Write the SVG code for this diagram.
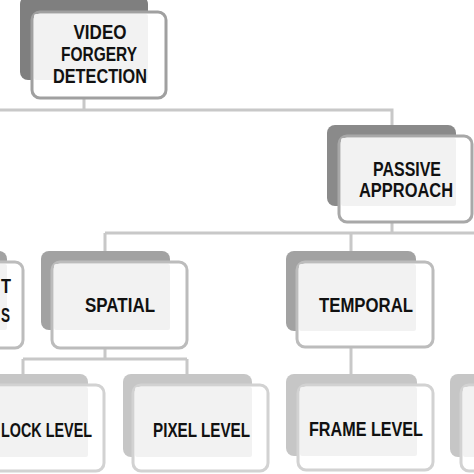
<svg xmlns="http://www.w3.org/2000/svg" width="474" height="474" viewBox="0 0 474 474">
<style>
.bg{fill:#ffffff}
.front{fill:#ffffff;stroke-width:3}
.inner{fill:#f2f2f2}
.l0 .sh{fill:#7f7f7f}.l0 .front{stroke:#a0a0a0}
.l1 .sh{fill:#8a8a8a}.l1 .front{stroke:#a8a8a8}
.l2 .sh{fill:#a2a2a2}.l2 .front{stroke:#bcbcbc}
.l3 .sh{fill:#c6c6c6}.l3 .front{stroke:#d2d2d2}
text{font-family:"Liberation Sans",Arial,sans-serif;font-weight:bold;font-size:19.5px;fill:#111111;text-anchor:middle}
.conn{fill:none;stroke:#c8c8c8;stroke-width:3}
</style>
<rect class="bg" x="0" y="0" width="474" height="474"/>
<g id="connectors" class="conn">
<path d="M84 98V110M-5 110H392V125"/>
<path d="M392 222V233M105 233H480M105 233V251M351 233V251"/>
<path d="M105 348V359M23 359H187M23 359V374M187 359V374"/>
<path d="M351 347V374"/>
</g>
<g id="node-video-forgery-detection" class="l0">
<rect class="sh" x="20" y="-4" width="128" height="84" rx="8"/>
<rect class="front" x="32" y="12" width="134" height="86" rx="8"/>
<rect class="inner" x="34" y="14" width="114" height="66" rx="2"/>
<text x="100" y="38.5" textLength="53" lengthAdjust="spacingAndGlyphs">VIDEO</text>
<text x="99" y="60.5" textLength="76" lengthAdjust="spacingAndGlyphs">FORGERY</text>
<text x="100" y="82.5" textLength="94" lengthAdjust="spacingAndGlyphs">DETECTION</text>
</g>
<g id="node-passive-approach" class="l1">
<rect class="sh" x="327" y="125" width="129" height="81" rx="8"/>
<rect class="front" x="339" y="136" width="133" height="86" rx="8"/>
<rect class="inner" x="341" y="138" width="115" height="68" rx="2"/>
<text x="407" y="175.5" textLength="68" lengthAdjust="spacingAndGlyphs">PASSIVE</text>
<text x="406" y="197" textLength="94" lengthAdjust="spacingAndGlyphs">APPROACH</text>
</g>
<g id="node-left-cut" class="l2">
<rect class="sh" x="-123" y="251" width="130" height="79" rx="8"/>
<rect class="front" x="-112" y="262" width="135" height="86" rx="8"/>
<rect class="inner" x="-110" y="264" width="117" height="66" rx="2"/>
<text x="6" y="293" textLength="10" lengthAdjust="spacingAndGlyphs">T</text>
<text x="5.5" y="322" textLength="9" lengthAdjust="spacingAndGlyphs">S</text>
</g>
<g id="node-spatial" class="l2">
<rect class="sh" x="41" y="251" width="129" height="79" rx="8"/>
<rect class="front" x="52" y="262" width="135" height="86" rx="8"/>
<rect class="inner" x="54" y="264" width="116" height="66" rx="2"/>
<text x="120" y="312" textLength="70" lengthAdjust="spacingAndGlyphs">SPATIAL</text>
</g>
<g id="node-temporal" class="l2">
<rect class="sh" x="286" y="251" width="130" height="80" rx="8"/>
<rect class="front" x="297" y="262" width="136" height="85" rx="8"/>
<rect class="inner" x="299" y="264" width="117" height="67" rx="2"/>
<text x="366" y="312" textLength="94" lengthAdjust="spacingAndGlyphs">TEMPORAL</text>
</g>
<g id="node-block-level" class="l3">
<rect class="sh" x="-42" y="374" width="130" height="83" rx="8"/>
<rect class="front" x="-31" y="385" width="135" height="86" rx="8"/>
<rect class="inner" x="-29" y="387" width="117" height="70" rx="2"/>
<text x="46.5" y="437" textLength="91" lengthAdjust="spacingAndGlyphs">LOCK LEVEL</text>
</g>
<g id="node-pixel-level" class="l3">
<rect class="sh" x="123" y="374" width="129" height="83" rx="8"/>
<rect class="front" x="133" y="385" width="135" height="86" rx="8"/>
<rect class="inner" x="135" y="387" width="117" height="70" rx="2"/>
<text x="201.5" y="437" textLength="97" lengthAdjust="spacingAndGlyphs">PIXEL LEVEL</text>
</g>
<g id="node-frame-level" class="l3">
<rect class="sh" x="286" y="374" width="131" height="82" rx="8"/>
<rect class="front" x="298" y="385" width="135" height="85" rx="8"/>
<rect class="inner" x="300" y="387" width="117" height="69" rx="2"/>
<text x="366" y="436" textLength="114" lengthAdjust="spacingAndGlyphs">FRAME LEVEL</text>
</g>
<g id="node-right-cut" class="l3">
<rect class="sh" x="450" y="374" width="130" height="83" rx="8"/>
<rect class="front" x="461" y="385" width="135" height="86" rx="8"/>
<rect class="inner" x="463" y="387" width="117" height="70" rx="2"/>
</g>
</svg>
